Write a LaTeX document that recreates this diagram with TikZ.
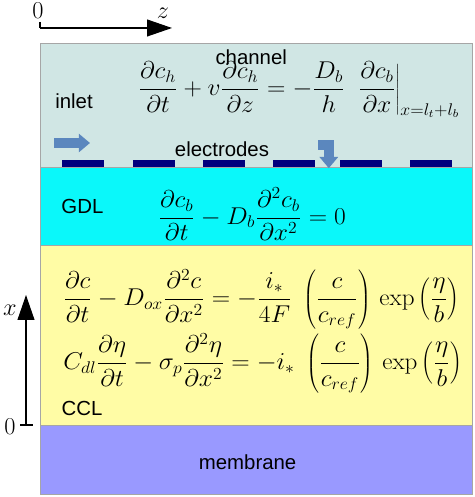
\documentclass[tikz,border=0pt]{standalone}
\usepackage{fontspec}
\usepackage{graphicx}
\newfontfamily\labelfont{Liberation Sans}
\usetikzlibrary{arrows.meta}

\definecolor{channelfill}{RGB}{208,230,228}
\definecolor{gdlfill}{RGB}{10,248,250}
\definecolor{cclfill}{RGB}{255,252,165}
\definecolor{membranefill}{RGB}{153,153,255}
\definecolor{electrode}{RGB}{0,0,125}
\definecolor{flowblue}{RGB}{91,135,190}

\newcommand{\eqn}[1]{\scalebox{1.05}[1]{$\displaystyle #1$}}

\tikzset{
	layer/.style = {draw = black!35, line width = 0.6pt},
	flow/.style = {draw = flowblue, line width = 0.25cm, line join = miter,
		-{Triangle[length = 0.28cm, width = 0.45cm]}},
	axis/.style = {line width = 0.8pt, -{Triangle[length = 0.62cm, width = 0.42cm]}},
	word/.style = {font = \labelfont\fontsize{14.5}{17}\selectfont},
	formula/.style = {inner sep = 0pt, font = \fontsize{17}{20}\selectfont},
	axislabel/.style = {font = \fontsize{17}{20}\selectfont}
}

\begin{document}
\begin{tikzpicture}[> = latex]

	\useasboundingbox (0, 0) rectangle (11.85, 12.425);

	% Layers of the cell
	
	\filldraw [layer, fill = channelfill] (1.0, 8.25) rectangle (11.8, 11.35);
	\filldraw [layer, fill = gdlfill] (1.0, 6.3) rectangle (11.8, 8.25);
	\filldraw [layer, fill = cclfill] (1.0, 1.8) rectangle (11.8, 6.3);
	\filldraw [layer, fill = membranefill] (1.0, 0.075) rectangle (11.8, 1.8);
	
	% Electrodes
	
	\foreach \ex in {1.55, 3.33, 5.08, 6.83, 8.5, 10.25}
		\fill [electrode] (\ex, 8.25) rectangle ++(1.05, 0.175);
	
	% Flow arrows
	
	\draw [flow] (1.35, 8.85) -- (2.25, 8.85);
	\draw [flow] (7.95, 8.8) -- (8.22, 8.8) -- (8.22, 8.22);
	
	% Axes
	
	\coordinate (zstart) at (1.0, 11.725);
	\coordinate (zend) at (4.3, 11.725);
	\coordinate (ztick) at (1.0, 11.875);
	\draw [axis] (zstart) -- (zend);
	\draw [line width = 0.8pt] (ztick) -- (zstart);
	\node [axislabel] (zzero) at (0.95, 12.16) {$0$};
	\node [axislabel] (zname) at (4.075, 12.1) {$z$};
	
	\coordinate (xstart) at (0.65, 1.8);
	\coordinate (xend) at (0.65, 5.05);
	\draw [axis] (xstart) -- (xend);
	\draw [line width = 0.8pt] (0.5, 1.8) -- (0.825, 1.8);
	\node [axislabel] (xzero) at (0.25, 1.75) {$0$};
	\node [axislabel] (xname) at (0.25, 4.675) {$x$};
	
	% Labels
	
	\node [word] (channel) at (6.28, 11.0) {channel};
	\node [word] (inlet) at (1.85, 9.9) {inlet};
	\node [word] (electrodes) at (5.55, 8.7) {electrodes};
	\node [word] (gdl) at (2.06, 7.26) {GDL};
	\node [word] (ccl) at (2.05, 2.225) {CCL};
	\node [word] (membrane) at (6.19, 0.875) {membrane};
	
	% Equations
	
	\node [formula, anchor = base west] (channeleq) at (3.45, 10.04)
		{\eqn{\frac{\partial c_h}{\partial t} + v\frac{\partial c_h}{\partial z}
		= -\frac{D_b}{h}\ \left.\frac{\partial c_b}{\partial x}\right|_{x=l_t+l_b}}};
	\node [formula, anchor = base west] (gdleq) at (3.95, 6.82)
		{\eqn{\frac{\partial c_b}{\partial t} - D_b\frac{\partial^2 c_b}{\partial x^2} = 0}};
	\node [formula, anchor = base west] (oxygeneq) at (1.575, 4.79)
		{\eqn{\frac{\partial c}{\partial t} - D_{ox}\frac{\partial^2 c}{\partial x^2}
		= -\frac{i_*}{4F}\;\left(\frac{c}{c_{ref}}\right)\,\exp\left(\frac{\eta}{b}\right)}};
	\node [formula, anchor = base west] (potentialeq) at (1.575, 3.19)
		{\eqn{C_{dl}\frac{\partial \eta}{\partial t} - \sigma_p\frac{\partial^2 \eta}{\partial x^2}
		= -i_*\;\left(\frac{c}{c_{ref}}\right)\,\exp\left(\frac{\eta}{b}\right)}};
	
\end{tikzpicture}
\end{document}
